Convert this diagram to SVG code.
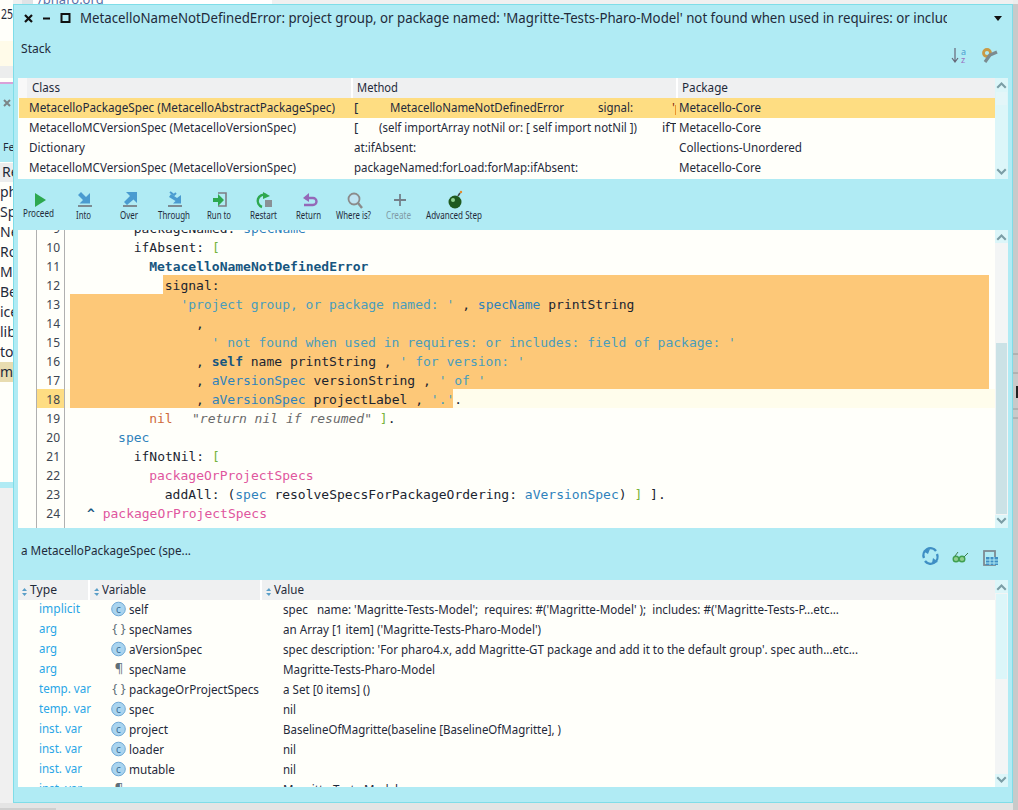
<svg xmlns="http://www.w3.org/2000/svg" width="1018" height="810" viewBox="0 0 1018 810">
<style>
text{font-family:"Noto Sans","Open Sans",sans-serif;font-size:13px;fill:#1f2a3a;white-space:pre}
.t{font-size:15px}
.tb{font-size:10.5px}
.ty{fill:#2aa6e6}
.l{font-size:14px}
.n{font-size:12px;fill:#3c4550;text-anchor:end}
.m{font-family:"DejaVu Sans Mono","Liberation Mono",monospace;font-size:13px;fill:#1b2430}
.s{fill:#4a9dbc}.c{fill:#17567f;font-weight:bold}.p{fill:#e0569e}.v{fill:#2f82bc}.o{fill:#cf6a3c}
.g{fill:#75b33c}.d{fill:#6a6a6a;font-style:italic}.h{fill:#5d9ab0}
.hd{fill:#eff0f1}.w{fill:#fffffa}.ic{fill:#a9d4ef;stroke:#6fa9d6;stroke-width:1}
.cc{font-size:10px;fill:#3a6f96;text-anchor:middle}
.sy{fill:#5f6f78;text-anchor:middle}
.ar{fill:#7b9ea6}
</style>
<defs>
<clipPath id="cpCode"><rect x="18" y="230" width="977" height="298"/></clipPath>
<clipPath id="cpVars"><rect x="18" y="600" width="977" height="187"/></clipPath>
<clipPath id="cpTitle"><rect x="70" y="4" width="877" height="40"/></clipPath>
<clipPath id="cpMeth"><rect x="352" y="98" width="324" height="80"/></clipPath>
<clipPath id="cpTop"><rect x="0" y="0" width="300" height="4"/></clipPath>
<g id="ci"><circle cx="0" cy="0" r="6.800" class="ic"/><text x="0" y="3.500" class="cc">c</text></g>
<path id="up" d="M-5 2 L0 -3 L5 2 L3.500 3.500 L0 0 L-3.500 3.500Z"/>
<path id="dn" d="M-5 -2 L0 3 L5 -2 L3.500 -3.500 L0 0 L-3.500 -3.500Z"/>
</defs>

<g id="background">
<rect width="1018" height="810" fill="#f0f0f0"/>
<rect width="13" height="482" fill="#fffffa"/>
<rect x="22" y="0" width="250" height="4" fill="#fff"/>
<rect x="22" y="0" width="11" height="4" fill="#dfe3e6"/>
<text x="38" y="4" clip-path="url(#cpTop)" style="fill:#5b6fa8">/pharo.org</text>
<rect x="272" y="0" width="746" height="4" fill="#f0f0f0"/>
<text x="1" y="19" class="l" textLength="12" lengthAdjust="spacingAndGlyphs">25</text>
<rect y="41" width="13" height="25" fill="#fffbe9"/>
<rect y="66" width="13" height="12" fill="#eceded"/>
<rect y="84" width="13" height="78" fill="#b0ebf4"/>
<rect y="82" width="13" height="2" fill="#d9a0d8"/>
<path d="M4 100 L10 106 M10 100 L4 106" stroke="#7b8588" stroke-width="2"/>
<text x="3" y="151" style="font-size:10.5px">Fe</text>
<rect y="163" width="13" height="19" fill="#eceded"/>
<text x="2" y="177" class="l">Re</text>
<text x="0" y="197" class="l">ph</text>
<text x="0" y="217" class="l">Sp</text>
<text x="0" y="237" class="l">Ne</text>
<text x="0" y="257" class="l">Ro</text>
<text x="0" y="277" class="l">Mi</text>
<text x="0" y="297" class="l">Be</text>
<text x="0" y="317" class="l">ice</text>
<text x="0" y="337" class="l">lib</text>
<text x="0" y="357" class="l">tor</text>
<rect y="362" width="13" height="20" fill="#e8dcb0"/>
<text x="0" y="377" class="l">ma</text>
<rect y="482" width="13" height="6" fill="#b0ebf4"/>
<rect y="803" width="1018" height="7" fill="#e4e4e4"/>
<rect y="808" width="56" height="2" fill="#cfcfcf"/>
<rect x="1013" width="5" height="810" fill="#c9c9c9"/>
<rect x="1013" width="5" height="4" fill="#ececec"/>
<path d="M1013 354H1018M1013 373H1018M1013 409H1018M1013 418H1018" stroke="#9a9a9a"/>
<rect x="1016" y="386" width="2" height="12" fill="#222"/>
</g>

<g id="window">
<rect x="13.500" y="4.500" width="999" height="798" fill="#b0ebf4" stroke="#7fdde8"/>
<g id="title-bar">
<path d="M25 15 L32 22 M32 15 L25 22" stroke="#111" stroke-width="2.200"/>
<rect x="43" y="17.500" width="7" height="2" fill="#111"/>
<rect x="61.500" y="14" width="8" height="8" fill="none" stroke="#111" stroke-width="2"/>
<text x="80" y="23" class="t" clip-path="url(#cpTitle)" textLength="871" lengthAdjust="spacingAndGlyphs">MetacelloNameNotDefinedError: project group, or package named: 'Magritte-Tests-Pharo-Model' not found when used in requires: or includ</text>
<path d="M994 16 H1002 L998 21Z" fill="#111"/>
</g>

<g id="stack-panel">
<text x="21" y="53" textLength="30" lengthAdjust="spacingAndGlyphs">Stack</text>
<g id="sort-icon">
<path d="M955 48V61M952 58L955 62L958 58" fill="none" stroke="#667" stroke-width="1.200"/>
<text x="961" y="55" style="font-size:9px;fill:#4a9dd0">a</text>
<text x="961" y="63" style="font-size:9px;fill:#9a6fc0">z</text>
</g>
<g id="wrench-icon">
<circle cx="987" cy="53" r="3.500" fill="none" stroke="#c99a45" stroke-width="2.800"/>
<path d="M997 52 L990 55 L985 62" fill="none" stroke="#7b8b90" stroke-width="3.200"/>
</g>
<rect x="18" y="78" width="990" height="101" class="w"/>
<rect x="18" y="78" width="977" height="20" class="hd"/>
<rect x="18" y="78" width="9" height="20" fill="#f8f8f8"/>
<rect x="351" y="78" width="2" height="20" fill="#fff"/>
<rect x="676" y="78" width="2" height="20" fill="#fff"/>
<text x="32" y="92" textLength="28" lengthAdjust="spacingAndGlyphs">Class</text>
<text x="357" y="92" textLength="41" lengthAdjust="spacingAndGlyphs">Method</text>
<text x="682" y="92" textLength="46" lengthAdjust="spacingAndGlyphs">Package</text>
<rect x="19" y="98" width="976" height="20" fill="#fedd82"/>
<text x="29" y="112" textLength="306" lengthAdjust="spacingAndGlyphs">MetacelloPackageSpec (MetacelloAbstractPackageSpec)</text>
<text x="29" y="132" textLength="267" lengthAdjust="spacingAndGlyphs">MetacelloMCVersionSpec (MetacelloVersionSpec)</text>
<text x="29" y="152" textLength="56" lengthAdjust="spacingAndGlyphs">Dictionary</text>
<text x="29" y="172" textLength="267" lengthAdjust="spacingAndGlyphs">MetacelloMCVersionSpec (MetacelloVersionSpec)</text>
<g clip-path="url(#cpMeth)">
<text x="354" y="112">[</text>
<text x="390" y="112" textLength="174" lengthAdjust="spacingAndGlyphs">MetacelloNameNotDefinedError</text>
<text x="598" y="112" textLength="35" lengthAdjust="spacingAndGlyphs">signal:</text>
<text x="672" y="112" style="fill:#8a2a10">'p</text>
<text x="354" y="132">[</text>
<text x="379" y="132" textLength="258" lengthAdjust="spacingAndGlyphs">(self importArray notNil or: [ self import notNil ])</text>
<text x="662" y="132" textLength="38" lengthAdjust="spacingAndGlyphs">ifTrue:</text>
<text x="354" y="152" textLength="62" lengthAdjust="spacingAndGlyphs">at:ifAbsent:</text>
<text x="354" y="172" textLength="224" lengthAdjust="spacingAndGlyphs">packageNamed:forLoad:forMap:ifAbsent:</text>
</g>
<text x="679" y="112" textLength="82" lengthAdjust="spacingAndGlyphs">Metacello-Core</text>
<text x="679" y="132" textLength="82" lengthAdjust="spacingAndGlyphs">Metacello-Core</text>
<text x="679" y="152" textLength="123" lengthAdjust="spacingAndGlyphs">Collections-Unordered</text>
<text x="679" y="172" textLength="82" lengthAdjust="spacingAndGlyphs">Metacello-Core</text>
<rect x="995" y="78" width="13" height="101" fill="#dcf6f9"/>
<rect x="996" y="92" width="11" height="13" fill="#e3f6f9"/>
<use href="#up" x="1001.500" y="85" class="ar"/>
<use href="#dn" x="1001.500" y="172" class="ar"/>
</g>

<g id="toolbar">
<path d="M35 193 L46 200 L35 207Z" fill="#2da84f"/>
<text x="23" y="217" class="tb" textLength="31" lengthAdjust="spacingAndGlyphs">Proceed</text>
<g id="into"><path d="M90 203.500 H79.500 L83 200 L78 195 L81 192 L86 197 L90 193Z" fill="#4a9bd0"/><rect x="78" y="205" width="14" height="2" fill="#7d8b92"/></g>
<text x="76" y="219" class="tb" textLength="15" lengthAdjust="spacingAndGlyphs">Into</text>
<g id="over"><path d="M126 192 H137 V203 L133.500 199.500 L127 205 L124 202 L130 196Z" fill="#4a9bd0"/><rect x="123" y="205" width="14" height="2" fill="#7d8b92"/></g>
<text x="120" y="219" class="tb" textLength="18" lengthAdjust="spacingAndGlyphs">Over</text>
<g id="through"><path d="M181 203.500 H173 L175.500 201 L169 197 L171 194 L177 198 L181 195Z" fill="#4a9bd0"/><path d="M170 192 L174 195 L176 193" fill="none" stroke="#4a9bd0" stroke-width="2"/><rect x="168" y="205" width="14" height="2" fill="#7d8b92"/></g>
<text x="158" y="219" class="tb" textLength="32" lengthAdjust="spacingAndGlyphs">Through</text>
<g id="run-to"><path d="M218 193H226V206H218" fill="none" stroke="#7d7d85" stroke-width="1.600"/><path d="M213 198 H218 V194 L224 200 L218 206 V202 H213Z" fill="#2da84f"/></g>
<text x="207" y="219" class="tb" textLength="24" lengthAdjust="spacingAndGlyphs">Run to</text>
<g id="restart"><path d="M266 195 A6 6 0 1 0 262 207" fill="none" stroke="#2da84f" stroke-width="2.400"/><path d="M263 192 L270 196 L263 199Z" fill="#2da84f"/><rect x="265" y="200" width="7" height="7" fill="#8a9095"/></g>
<text x="250" y="219" class="tb" textLength="27" lengthAdjust="spacingAndGlyphs">Restart</text>
<g id="return"><path d="M305 198 H313 A3.500 3.500 0 0 1 313 205 H304" fill="none" stroke="#9468b8" stroke-width="2.400"/><path d="M309 193 L303 198 L309 202Z" fill="#9468b8"/></g>
<text x="296" y="219" class="tb" textLength="25" lengthAdjust="spacingAndGlyphs">Return</text>
<g id="where"><circle cx="354" cy="199" r="5.500" fill="#bfe4f2" stroke="#8b8b8b" stroke-width="1.800"/><path d="M358 203 L362 208" stroke="#8b8b8b" stroke-width="2.400"/></g>
<text x="336" y="219" class="tb" textLength="35" lengthAdjust="spacingAndGlyphs">Where is?</text>
<path id="create" d="M400 194V206M394 200H406" stroke="#74808a" stroke-width="1.800"/>
<text x="386" y="219" class="tb" style="fill:#7f9aa5" textLength="25" lengthAdjust="spacingAndGlyphs">Create</text>
<g id="bomb"><circle cx="455" cy="202" r="6.500" fill="#1f5a1f"/><circle cx="453" cy="200" r="2" fill="#8fd08f"/><path d="M458 196 L460 193" stroke="#444" stroke-width="1.500"/><circle cx="461" cy="192" r="1.200" fill="#e88a2a"/></g>
<text x="426" y="219" class="tb" textLength="56" lengthAdjust="spacingAndGlyphs">Advanced Step</text>
</g>

<g id="code-panel">
<rect x="18" y="230" width="990" height="298" class="w"/>
<rect x="36" y="230" width="1" height="298" fill="#b0b0b0"/>
<rect x="64" y="230" width="1" height="298" fill="#b0b0b0"/>
<rect x="65" y="389" width="930" height="19" fill="#fffdec"/>
<rect x="37" y="389" width="27" height="19" fill="#fedd82"/>
<path d="M163 275 H989 V389 H453 V408 H70 V294 H163Z" fill="#fdc878"/>
<g clip-path="url(#cpCode)">
<text class="n" x="60" y="233">9</text>
<text class="n" x="60" y="252">10</text>
<text class="n" x="60" y="271">11</text>
<text class="n" x="60" y="290">12</text>
<text class="n" x="60" y="309">13</text>
<text class="n" x="60" y="328">14</text>
<text class="n" x="60" y="347">15</text>
<text class="n" x="60" y="366">16</text>
<text class="n" x="60" y="385">17</text>
<text class="n" x="60" y="404">18</text>
<text class="n" x="60" y="423">19</text>
<text class="n" x="60" y="442">20</text>
<text class="n" x="60" y="461">21</text>
<text class="n" x="60" y="480">22</text>
<text class="n" x="60" y="499">23</text>
<text class="n" x="60" y="518">24</text>
<text class="m" x="133.700" y="233">packageNamed: <tspan class="v">specName</tspan></text>
<text class="m" x="133.700" y="252">ifAbsent: <tspan class="g">[</tspan></text>
<text class="m c" x="149.200" y="271">MetacelloNameNotDefinedError</text>
<text class="m" x="164.800" y="290">signal:</text>
<text class="m" x="180.400" y="309"><tspan class="s">'project group, or package named: '</tspan> , <tspan class="v">specName</tspan> printString</text>
<text class="m" x="196" y="328">,</text>
<text class="m s" x="211.500" y="347">' not found when used in requires: or includes: field of package: '</text>
<text class="m" x="196" y="366">, <tspan class="c">self</tspan> name printString , <tspan class="s">' for version: '</tspan></text>
<text class="m" x="196" y="385">, <tspan class="v">aVersionSpec</tspan> versionString , <tspan class="s">' of '</tspan></text>
<text class="m" x="196" y="404">, <tspan class="v">aVersionSpec</tspan> projectLabel , <tspan class="s">'.'</tspan>.</text>
<text class="m" x="149.200" y="423"><tspan class="o">nil</tspan><tspan class="d" x="192">"return nil if resumed"</tspan> <tspan class="g">]</tspan>.</text>
<text class="m v" x="118.100" y="442">spec</text>
<text class="m" x="133.700" y="461">ifNotNil: <tspan class="g">[</tspan></text>
<text class="m p" x="149.200" y="480">packageOrProjectSpecs</text>
<text class="m" x="164.800" y="499">addAll: (<tspan class="v">spec</tspan> resolveSpecsForPackageOrdering: <tspan class="v">aVersionSpec</tspan>) <tspan class="g">]</tspan> ].</text>
<text class="m" x="87" y="518"><tspan fill="#17567f" style="fill:#17567f" font-weight="bold">^</tspan> <tspan class="p">packageOrProjectSpecs</tspan></text>
</g>
<rect x="995" y="230" width="13" height="298" fill="#f3f5f5"/>
<rect x="995" y="230" width="13" height="13" fill="#dcf6f9"/>
<rect x="995" y="515" width="13" height="13" fill="#dcf6f9"/>
<rect x="996" y="343" width="11" height="171" fill="#cbe2e6"/>
<use href="#up" x="1001.500" y="237" class="ar"/>
<use href="#dn" x="1001.500" y="521" class="ar"/>
</g>

<g id="inspector-panel">
<text x="21" y="555" textLength="170" lengthAdjust="spacingAndGlyphs">a MetacelloPackageSpec (spe...</text>
<g id="refresh-icon" fill="none" stroke="#3f8fc4" stroke-width="2.400"><path d="M936 551 A7 7 0 0 0 924 558"/><path d="M925 561 A7 7 0 0 0 937 554"/><path d="M923 551 L930 549 L928 554Z M938 562 L932 563 L933 558Z" fill="#3f8fc4" stroke="none"/></g>
<g id="glasses-icon"><circle cx="956" cy="559" r="2.800" fill="#8fce8f" stroke="#3f9f4f" stroke-width="1.400"/><circle cx="962" cy="559" r="2.800" fill="#8fce8f" stroke="#3f9f4f" stroke-width="1.400"/><path d="M958 552 L955 556M964 557 L968 553" stroke="#3f7f4f" fill="none"/></g>
<g id="grid-icon"><rect x="984" y="551" width="11" height="14" fill="none" stroke="#7d8b92" stroke-width="1.800"/><rect x="986" y="557" width="12" height="8" fill="#3f8fc4"/><path d="M990 557V565M994 557V565M986 560H998M986 563H998" stroke="#b0ebf4"/></g>
<rect x="18" y="580" width="990" height="207" class="w"/>
<rect x="18" y="580" width="977" height="20" class="hd"/>
<rect x="88" y="580" width="2" height="20" fill="#fff"/>
<rect x="260" y="580" width="2" height="20" fill="#fff"/>
<path d="M22 591 L24.500 588 L27 591ZM22 593 L24.500 596 L27 593Z M94 591 L97 588 L99 591ZM94 593 L97 596 L99 593Z M266 591 L269 588 L271 591ZM266 593 L269 596 L271 593Z" fill="#5b9fc8"/>
<text x="30" y="594" textLength="27" lengthAdjust="spacingAndGlyphs">Type</text>
<text x="102" y="594" textLength="44" lengthAdjust="spacingAndGlyphs">Variable</text>
<text x="274" y="594" textLength="30" lengthAdjust="spacingAndGlyphs">Value</text>
<g clip-path="url(#cpVars)">
<use href="#ci" x="118.500" y="609"/>
<use href="#ci" x="118.500" y="649"/>
<use href="#ci" x="118.500" y="709"/>
<use href="#ci" x="118.500" y="729"/>
<use href="#ci" x="118.500" y="749"/>
<use href="#ci" x="118.500" y="769"/>
<g transform="translate(0,1)">
<text class="ty" x="39" y="612" textLength="41" lengthAdjust="spacingAndGlyphs">implicit</text>
<text class="ty" x="39" y="632" textLength="18" lengthAdjust="spacingAndGlyphs">arg</text>
<text class="ty" x="39" y="652" textLength="18" lengthAdjust="spacingAndGlyphs">arg</text>
<text class="ty" x="39" y="672" textLength="18" lengthAdjust="spacingAndGlyphs">arg</text>
<text class="ty" x="39" y="692" textLength="52" lengthAdjust="spacingAndGlyphs">temp. var</text>
<text class="ty" x="39" y="712" textLength="52" lengthAdjust="spacingAndGlyphs">temp. var</text>
<text class="ty" x="39" y="732" textLength="43" lengthAdjust="spacingAndGlyphs">inst. var</text>
<text class="ty" x="39" y="752" textLength="43" lengthAdjust="spacingAndGlyphs">inst. var</text>
<text class="ty" x="39" y="772" textLength="43" lengthAdjust="spacingAndGlyphs">inst. var</text>
<text class="ty" x="39" y="792" textLength="43" lengthAdjust="spacingAndGlyphs">inst. var</text>
<text class="sy" x="119" y="632">{ }</text>
<text class="sy" x="119" y="672">¶</text>
<text class="sy" x="119" y="692">{ }</text>
<text class="sy" x="119" y="792">¶</text>
<text x="129" y="613" textLength="19" lengthAdjust="spacingAndGlyphs">self</text>
<text x="129" y="633" textLength="63" lengthAdjust="spacingAndGlyphs">specNames</text>
<text x="129" y="653" textLength="73" lengthAdjust="spacingAndGlyphs">aVersionSpec</text>
<text x="129" y="673" textLength="57" lengthAdjust="spacingAndGlyphs">specName</text>
<text x="129" y="693" textLength="130" lengthAdjust="spacingAndGlyphs">packageOrProjectSpecs</text>
<text x="129" y="713" textLength="25" lengthAdjust="spacingAndGlyphs">spec</text>
<text x="129" y="733" textLength="39" lengthAdjust="spacingAndGlyphs">project</text>
<text x="129" y="753" textLength="35" lengthAdjust="spacingAndGlyphs">loader</text>
<text x="129" y="773" textLength="46" lengthAdjust="spacingAndGlyphs">mutable</text>
<text x="129" y="793" textLength="30" lengthAdjust="spacingAndGlyphs">name</text>
<text x="283" y="613" textLength="556" lengthAdjust="spacingAndGlyphs">spec   name: 'Magritte-Tests-Model';  requires: #('Magritte-Model' );  includes: #('Magritte-Tests-P...etc...</text>
<text x="283" y="633" textLength="258" lengthAdjust="spacingAndGlyphs">an Array [1 item] ('Magritte-Tests-Pharo-Model')</text>
<text x="283" y="653" textLength="575" lengthAdjust="spacingAndGlyphs">spec description: 'For pharo4.x, add Magritte-GT package and add it to the default group'. spec auth...etc...</text>
<text x="283" y="673" textLength="152" lengthAdjust="spacingAndGlyphs">Magritte-Tests-Pharo-Model</text>
<text x="283" y="693" textLength="87" lengthAdjust="spacingAndGlyphs">a Set [0 items] ()</text>
<text x="283" y="713" textLength="13" lengthAdjust="spacingAndGlyphs">nil</text>
<text x="283" y="733" textLength="278" lengthAdjust="spacingAndGlyphs">BaselineOfMagritte(baseline [BaselineOfMagritte], )</text>
<text x="283" y="753" textLength="13" lengthAdjust="spacingAndGlyphs">nil</text>
<text x="283" y="773" textLength="13" lengthAdjust="spacingAndGlyphs">nil</text>
<text x="283" y="793" textLength="115" lengthAdjust="spacingAndGlyphs">Magritte-Tests-Model</text>
</g>
</g>
<rect x="995" y="580" width="13" height="207" fill="#f3f5f5"/>
<rect x="995" y="580" width="13" height="13" fill="#dcf6f9"/>
<rect x="995" y="774" width="13" height="13" fill="#dcf6f9"/>
<rect x="996" y="594" width="11" height="85" fill="#dcf6f9"/>
<use href="#up" x="1001.500" y="587" class="ar"/>
<use href="#dn" x="1001.500" y="780" class="ar"/>
</g>
</g>
</svg>
